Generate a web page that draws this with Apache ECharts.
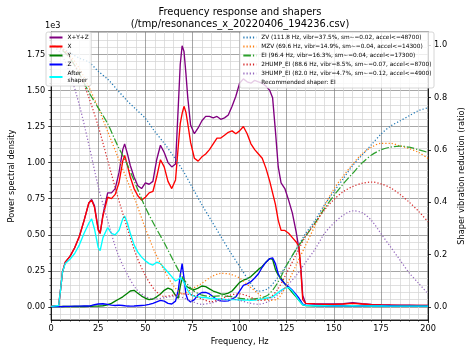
<!DOCTYPE html>
<html><head><meta charset="utf-8">
<script src="https://cdn.jsdelivr.net/npm/echarts@6/dist/echarts.min.js"></script>
<style>html,body{margin:0;padding:0;background:#fff}#c{width:474px;height:355px}</style>
</head><body><div id="c"></div>
<script>
// ---------- data ----------
const freqs = [0, 4, 5, 6, 7.5, 10, 12.5, 15, 17.5, 20,
  21.5, 23, 25, 26, 27.5, 30, 32, 34, 36, 38,
  39, 40.5, 42, 44, 46, 48, 50, 52, 54, 56,
  58, 60, 62, 64, 66, 67.5, 68.5, 69.5, 70.5, 71.5,
  72.5, 74, 76, 78, 80, 82, 84, 86, 88, 90,
  92, 94, 96, 98, 100, 102, 104, 106, 108, 110,
  112, 114, 116, 117.5, 119, 120.5, 122, 124, 126, 128,
  130, 131.5, 132.5, 133.5, 135, 140, 145, 150, 155, 160,
  165, 170, 175, 180, 185, 190, 195, 200];

const psdXYZ = [0.004, 0.01, 0.12, 0.24, 0.31, 0.35, 0.41, 0.49, 0.60, 0.72,
  0.745, 0.70, 0.54, 0.51, 0.64, 0.79, 0.79, 0.82, 0.93, 1.09,
  1.13, 1.06, 0.98, 0.90, 0.84, 0.82, 0.86, 0.85, 0.87, 1.02,
  1.12, 1.07, 1.00, 0.97, 0.99, 1.40, 1.68, 1.81, 1.77, 1.62,
  1.45, 1.26, 1.20, 1.24, 1.29, 1.32, 1.32, 1.31, 1.32, 1.30,
  1.31, 1.33, 1.39, 1.46, 1.55, 1.58, 1.56, 1.55, 1.57, 1.56,
  1.55, 1.53, 1.50, 1.45, 1.22, 0.97, 0.86, 0.82, 0.74, 0.65,
  0.52, 0.40, 0.27, 0.08, 0.025, 0.022, 0.02, 0.02, 0.022, 0.03,
  0.022, 0.018, 0.015, 0.013, 0.012, 0.012, 0.01, 0.01];

const psdX = [0.004, 0.01, 0.12, 0.24, 0.31, 0.35, 0.41, 0.49, 0.60, 0.72,
  0.74, 0.69, 0.53, 0.51, 0.63, 0.76, 0.75, 0.78, 0.86, 1.01,
  1.05, 0.98, 0.90, 0.82, 0.77, 0.74, 0.76, 0.79, 0.80, 0.90,
  1.02, 0.97, 0.87, 0.82, 0.88, 1.12, 1.27, 1.34, 1.39, 1.35,
  1.27, 1.14, 1.03, 1.01, 1.04, 1.06, 1.09, 1.13, 1.17, 1.17,
  1.19, 1.21, 1.22, 1.20, 1.22, 1.25, 1.20, 1.13, 1.09, 1.06,
  1.03, 0.96, 0.87, 0.79, 0.71, 0.60, 0.53, 0.53, 0.51, 0.48,
  0.45, 0.42, 0.25, 0.05, 0.025, 0.02, 0.018, 0.018, 0.02, 0.025,
  0.02, 0.015, 0.013, 0.012, 0.011, 0.01, 0.01, 0.01];

const psdY = [0.002, 0.002, 0.002, 0.003, 0.003, 0.003, 0.003, 0.003, 0.003, 0.004,
  0.004, 0.005, 0.005, 0.006, 0.008, 0.015, 0.025, 0.04, 0.055, 0.07,
  0.08, 0.095, 0.11, 0.115, 0.095, 0.075, 0.06, 0.05, 0.055, 0.07,
  0.09, 0.115, 0.13, 0.12, 0.08, 0.06, 0.14, 0.20, 0.175, 0.145,
  0.135, 0.125, 0.12, 0.13, 0.145, 0.14, 0.125, 0.11, 0.10, 0.09,
  0.088, 0.095, 0.11, 0.14, 0.17, 0.185, 0.195, 0.21, 0.235, 0.26,
  0.28, 0.31, 0.335, 0.33, 0.26, 0.22, 0.20, 0.16, 0.13, 0.10,
  0.07, 0.045, 0.03, 0.015, 0.01, 0.008, 0.008, 0.007, 0.007, 0.008,
  0.007, 0.006, 0.006, 0.005, 0.005, 0.005, 0.005, 0.005];

const psdZ = [0.002, 0.002, 0.003, 0.003, 0.004, 0.004, 0.005, 0.005, 0.006, 0.006,
  0.01, 0.015, 0.02, 0.02, 0.022, 0.018, 0.012, 0.01, 0.012, 0.01,
  0.008, 0.006, 0.005, 0.006, 0.008, 0.01, 0.012, 0.018, 0.025, 0.035,
  0.045, 0.04, 0.025, 0.02, 0.04, 0.12, 0.22, 0.30, 0.20, 0.09,
  0.05, 0.035, 0.05, 0.085, 0.10, 0.10, 0.09, 0.07, 0.05, 0.042,
  0.04, 0.042, 0.055, 0.07, 0.11, 0.15, 0.16, 0.175, 0.20, 0.23,
  0.275, 0.31, 0.335, 0.34, 0.30, 0.23, 0.19, 0.16, 0.14, 0.115,
  0.085, 0.06, 0.04, 0.02, 0.012, 0.01, 0.008, 0.008, 0.008, 0.009,
  0.008, 0.007, 0.006, 0.006, 0.005, 0.005, 0.005, 0.005];

const psdAfter = [0.004, 0.01, 0.12, 0.24, 0.30, 0.33, 0.37, 0.43, 0.51, 0.58,
  0.61, 0.54, 0.41, 0.39, 0.48, 0.55, 0.51, 0.50, 0.53, 0.61,
  0.63, 0.58, 0.51, 0.43, 0.38, 0.345, 0.32, 0.30, 0.29, 0.31,
  0.30, 0.27, 0.24, 0.21, 0.18, 0.19, 0.205, 0.19, 0.17, 0.14,
  0.115, 0.085, 0.075, 0.07, 0.065, 0.065, 0.06, 0.058, 0.055, 0.055,
  0.052, 0.05, 0.05, 0.05, 0.048, 0.048, 0.047, 0.046, 0.047, 0.05,
  0.055, 0.06, 0.065, 0.07, 0.085, 0.10, 0.115, 0.13, 0.135, 0.11,
  0.075, 0.045, 0.03, 0.015, 0.01, 0.008, 0.008, 0.007, 0.007, 0.008,
  0.007, 0.006, 0.006, 0.005, 0.005, 0.005, 0.005, 0.005];

const shaperFreqs = [0, 5, 10, 15, 20, 25, 30, 35, 40, 45, 50, 55, 60, 65, 70, 75, 80, 85, 90, 95,
  100, 105, 110, 115, 120, 125, 130, 135, 140, 145, 150, 155, 160, 165, 170, 175, 180, 185, 190, 195, 200];

const shaperZV = [1.0, 0.99, 0.97, 0.95, 0.935, 0.90, 0.87, 0.83, 0.79, 0.755, 0.72, 0.67, 0.625, 0.575, 0.52, 0.455, 0.39, 0.33, 0.27, 0.21,
  0.155, 0.10, 0.06, 0.07, 0.11, 0.16, 0.22, 0.28, 0.33, 0.39, 0.44, 0.49, 0.54, 0.58, 0.62, 0.66, 0.69, 0.71, 0.73, 0.75, 0.76];
const shaperMZV = [1.0, 0.99, 0.96, 0.91, 0.84, 0.76, 0.67, 0.58, 0.49, 0.40, 0.30, 0.21, 0.14, 0.08, 0.05, 0.07, 0.09, 0.115, 0.128, 0.125,
  0.11, 0.08, 0.05, 0.025, 0.03, 0.085, 0.16, 0.235, 0.31, 0.385, 0.45, 0.50, 0.545, 0.585, 0.61, 0.625, 0.625, 0.615, 0.605, 0.59, 0.567];
const shaperEI = [1.0, 0.985, 0.95, 0.89, 0.82, 0.76, 0.70, 0.62, 0.55, 0.465, 0.38, 0.31, 0.245, 0.175, 0.11, 0.065, 0.045, 0.04, 0.042, 0.04,
  0.033, 0.03, 0.033, 0.045, 0.09, 0.16, 0.22, 0.27, 0.32, 0.375, 0.425, 0.47, 0.51, 0.55, 0.58, 0.60, 0.61, 0.614, 0.61, 0.60, 0.59];
const shaper2HUMP = [1.0, 0.99, 0.95, 0.89, 0.80, 0.69, 0.56, 0.43, 0.31, 0.20, 0.12, 0.065, 0.04, 0.045, 0.05, 0.045, 0.03, 0.02, 0.03, 0.045,
  0.05, 0.04, 0.025, 0.03, 0.065, 0.13, 0.20, 0.27, 0.32, 0.37, 0.41, 0.44, 0.46, 0.472, 0.477, 0.47, 0.455, 0.43, 0.40, 0.365, 0.325];
const shaper3HUMP = [1.0, 0.97, 0.89, 0.77, 0.62, 0.46, 0.33, 0.21, 0.13, 0.07, 0.04, 0.03, 0.035, 0.04, 0.035, 0.02, 0.01, 0.015, 0.025, 0.03,
  0.025, 0.015, 0.01, 0.02, 0.045, 0.08, 0.12, 0.17, 0.22, 0.28, 0.32, 0.35, 0.367, 0.36, 0.33, 0.28, 0.23, 0.18, 0.13, 0.09, 0.05];

const psdLabels = ['X+Y+Z', 'X', 'Y', 'Z', 'After\nshaper'];
const shaperLabels = [
  'ZV (111.8 Hz, vibr=37.5%, sm~=0.02, accel<=48700)',
  'MZV (69.6 Hz, vibr=14.9%, sm~=0.04, accel<=14300)',
  'EI (96.4 Hz, vibr=16.3%, sm~=0.04, accel<=17300)',
  '2HUMP_EI (88.6 Hz, vibr=8.5%, sm~=0.07, accel<=8700)',
  '3HUMP_EI (82.0 Hz, vibr=4.7%, sm~=0.12, accel<=4900)'
];
const recommendedLabel = 'Recommended shaper: EI';

const psdTicks = [0, 0.25, 0.5, 0.75, 1.0, 1.25, 1.5, 1.75];
const ratioTicks = [0, 0.2, 0.4, 0.6, 0.8, 1.0];
const freqTickStep = 25;

// ---------- chart ----------
const FONT = 'DejaVu Sans';
const PSD_MIN = -0.0907, PSD_MAX = 1.905;
const psdMinor = [];
for (let k = -1; k <= 38; k++) { if (k % 5 !== 0) psdMinor.push(+(k * 0.05).toFixed(2)); }

function pts(xs, ys) { return xs.map((x, i) => [x, ys[i]]); }
function psdSeries(name, color, vals) {
  return { type: 'line', name, data: pts(freqs, vals), xAxisIndex: 0, yAxisIndex: 0,
    symbol: 'none', showSymbol: false, lineStyle: { color, width: 1.35 }, itemStyle: { color }, z: 2, silent: true };
}
function shaperSeries(name, color, vals, type) {
  return { type: 'line', name, data: pts(shaperFreqs, vals), xAxisIndex: 0, yAxisIndex: 1, smooth: 0.3,
    symbol: 'none', showSymbol: false, lineStyle: { color, width: 1.25, type }, itemStyle: { color }, z: 3, silent: true };
}
const dotted = [1.2, 2.0];
const dashdot = [7.6, 2.0, 1.2, 2.0];

const legendCommon = {
  orient: 'vertical', top: 32, padding: [2, 2.5, 2, 2.5], itemGap: 2, itemWidth: 13, itemHeight: 7,
  textStyle: { fontSize: 5.8, lineHeight: 7, fontFamily: FONT, color: '#000' },
  itemStyle: { opacity: 0, borderWidth: 0 },
  backgroundColor: 'rgba(255,255,255,0.8)', borderColor: '#cccccc', borderWidth: 0.8, borderRadius: 2,
  selectedMode: false, z: 10
};

const option = {
  animation: false,
  backgroundColor: '#fff',
  textStyle: { fontFamily: FONT },
  grid: { left: 45, right: 38, top: 32, bottom: 35, show: true, borderColor: '#000', borderWidth: 0.8, backgroundColor: 'transparent' },
  graphic: [
    { type: 'text', x: 240, y: 12, style: { text: 'Frequency response and shapers', textAlign: 'center', textVerticalAlign: 'middle', font: '9.9px "DejaVu Sans"', fill: '#000' } },
    { type: 'text', x: 240, y: 24, style: { text: '(/tmp/resonances_x_20220406_194236.csv)', textAlign: 'center', textVerticalAlign: 'middle', font: '9.9px "DejaVu Sans"', fill: '#000' } },
    { type: 'text', x: 45, y: 26, style: { text: '1e3', textAlign: 'left', textVerticalAlign: 'middle', font: '8.2px "DejaVu Sans"', fill: '#000' } }
  ],
  legend: [
    Object.assign({}, legendCommon, { left: 46, data: psdLabels }),
    Object.assign({}, legendCommon, { right: 40, data: shaperLabels.concat([{ name: recommendedLabel, itemStyle: { opacity: 0 }, lineStyle: { opacity: 0 } }]) })
  ],
  xAxis: {
    type: 'value', min: 0, max: 200, interval: freqTickStep,
    name: 'Frequency, Hz', nameLocation: 'middle', nameGap: 16,
    nameTextStyle: { fontSize: 8.2, color: '#000', fontFamily: FONT },
    axisLine: { onZero: false, lineStyle: { color: '#000', width: 0.8 } },
    axisTick: { length: 2.9, lineStyle: { color: '#000', width: 0.8 } },
    minorTick: { show: true, splitNumber: 5, length: 1.6, lineStyle: { color: '#000', width: 0.6 } },
    axisLabel: { fontSize: 8.2, color: '#000', margin: 5, fontFamily: FONT },
    splitLine: { show: true, showMinLine: false, showMaxLine: false, lineStyle: { color: '#808080', width: 0.7 } },
    minorSplitLine: { show: true, lineStyle: { color: '#d3d3d3', width: 0.7 } }
  },
  yAxis: [
    {
      type: 'value', position: 'left', min: PSD_MIN, max: PSD_MAX,
      name: 'Power spectral density', nameLocation: 'middle', nameGap: 28,
      nameTextStyle: { fontSize: 8.2, color: '#000', fontFamily: FONT },
      axisLine: { show: true, onZero: false, lineStyle: { color: '#000', width: 0.8 } },
      axisTick: { show: true, length: 2.9, customValues: psdTicks, lineStyle: { color: '#000', width: 0.8 } },
      axisLabel: { customValues: psdTicks, formatter: v => v.toFixed(2), fontSize: 8.2, color: '#000', margin: 6, fontFamily: FONT },
      splitLine: { show: true, lineStyle: { color: '#808080', width: 0.7 } }
    },
    {
      type: 'value', position: 'right', min: -0.05, max: 1.05,
      name: 'Shaper vibration reduction (ratio)', nameLocation: 'middle', nameGap: 22,
      nameTextStyle: { fontSize: 8.2, color: '#000', fontFamily: FONT },
      axisLine: { show: true, onZero: false, lineStyle: { color: '#000', width: 0.8 } },
      axisTick: { show: true, length: 2.9, customValues: ratioTicks, lineStyle: { color: '#000', width: 0.8 } },
      axisLabel: { customValues: ratioTicks, formatter: v => v.toFixed(1), fontSize: 8.2, color: '#000', margin: 6, fontFamily: FONT },
      splitLine: { show: false }
    },
    {
      type: 'value', position: 'left', min: PSD_MIN, max: PSD_MAX,
      axisLine: { show: false, onZero: false },
      axisTick: { show: true, length: 1.6, customValues: psdMinor, lineStyle: { color: '#000', width: 0.6 } },
      axisLabel: { show: false },
      splitLine: { show: true, lineStyle: { color: '#d3d3d3', width: 0.7 } }
    }
  ],
  series: [
    psdSeries('X+Y+Z', '#800080', psdXYZ),
    psdSeries('X', '#ff0000', psdX),
    psdSeries('Y', '#008000', psdY),
    psdSeries('Z', '#0000ff', psdZ),
    psdSeries('After\nshaper', '#00ffff', psdAfter),
    shaperSeries(shaperLabels[0], '#1f77b4', shaperZV, dotted),
    shaperSeries(shaperLabels[1], '#ff7f0e', shaperMZV, dotted),
    shaperSeries(shaperLabels[2], '#2ca02c', shaperEI, dashdot),
    shaperSeries(shaperLabels[3], '#d62728', shaper2HUMP, dotted),
    shaperSeries(shaperLabels[4], '#9467bd', shaper3HUMP, dotted),
    { type: 'line', name: recommendedLabel, data: [], yAxisIndex: 1, symbol: 'none', lineStyle: { opacity: 0 }, itemStyle: { opacity: 0 } }
  ]
};
const chart = echarts.init(document.getElementById('c'), null, { renderer: 'canvas' });
chart.setOption(option);
</script>
</body></html>
